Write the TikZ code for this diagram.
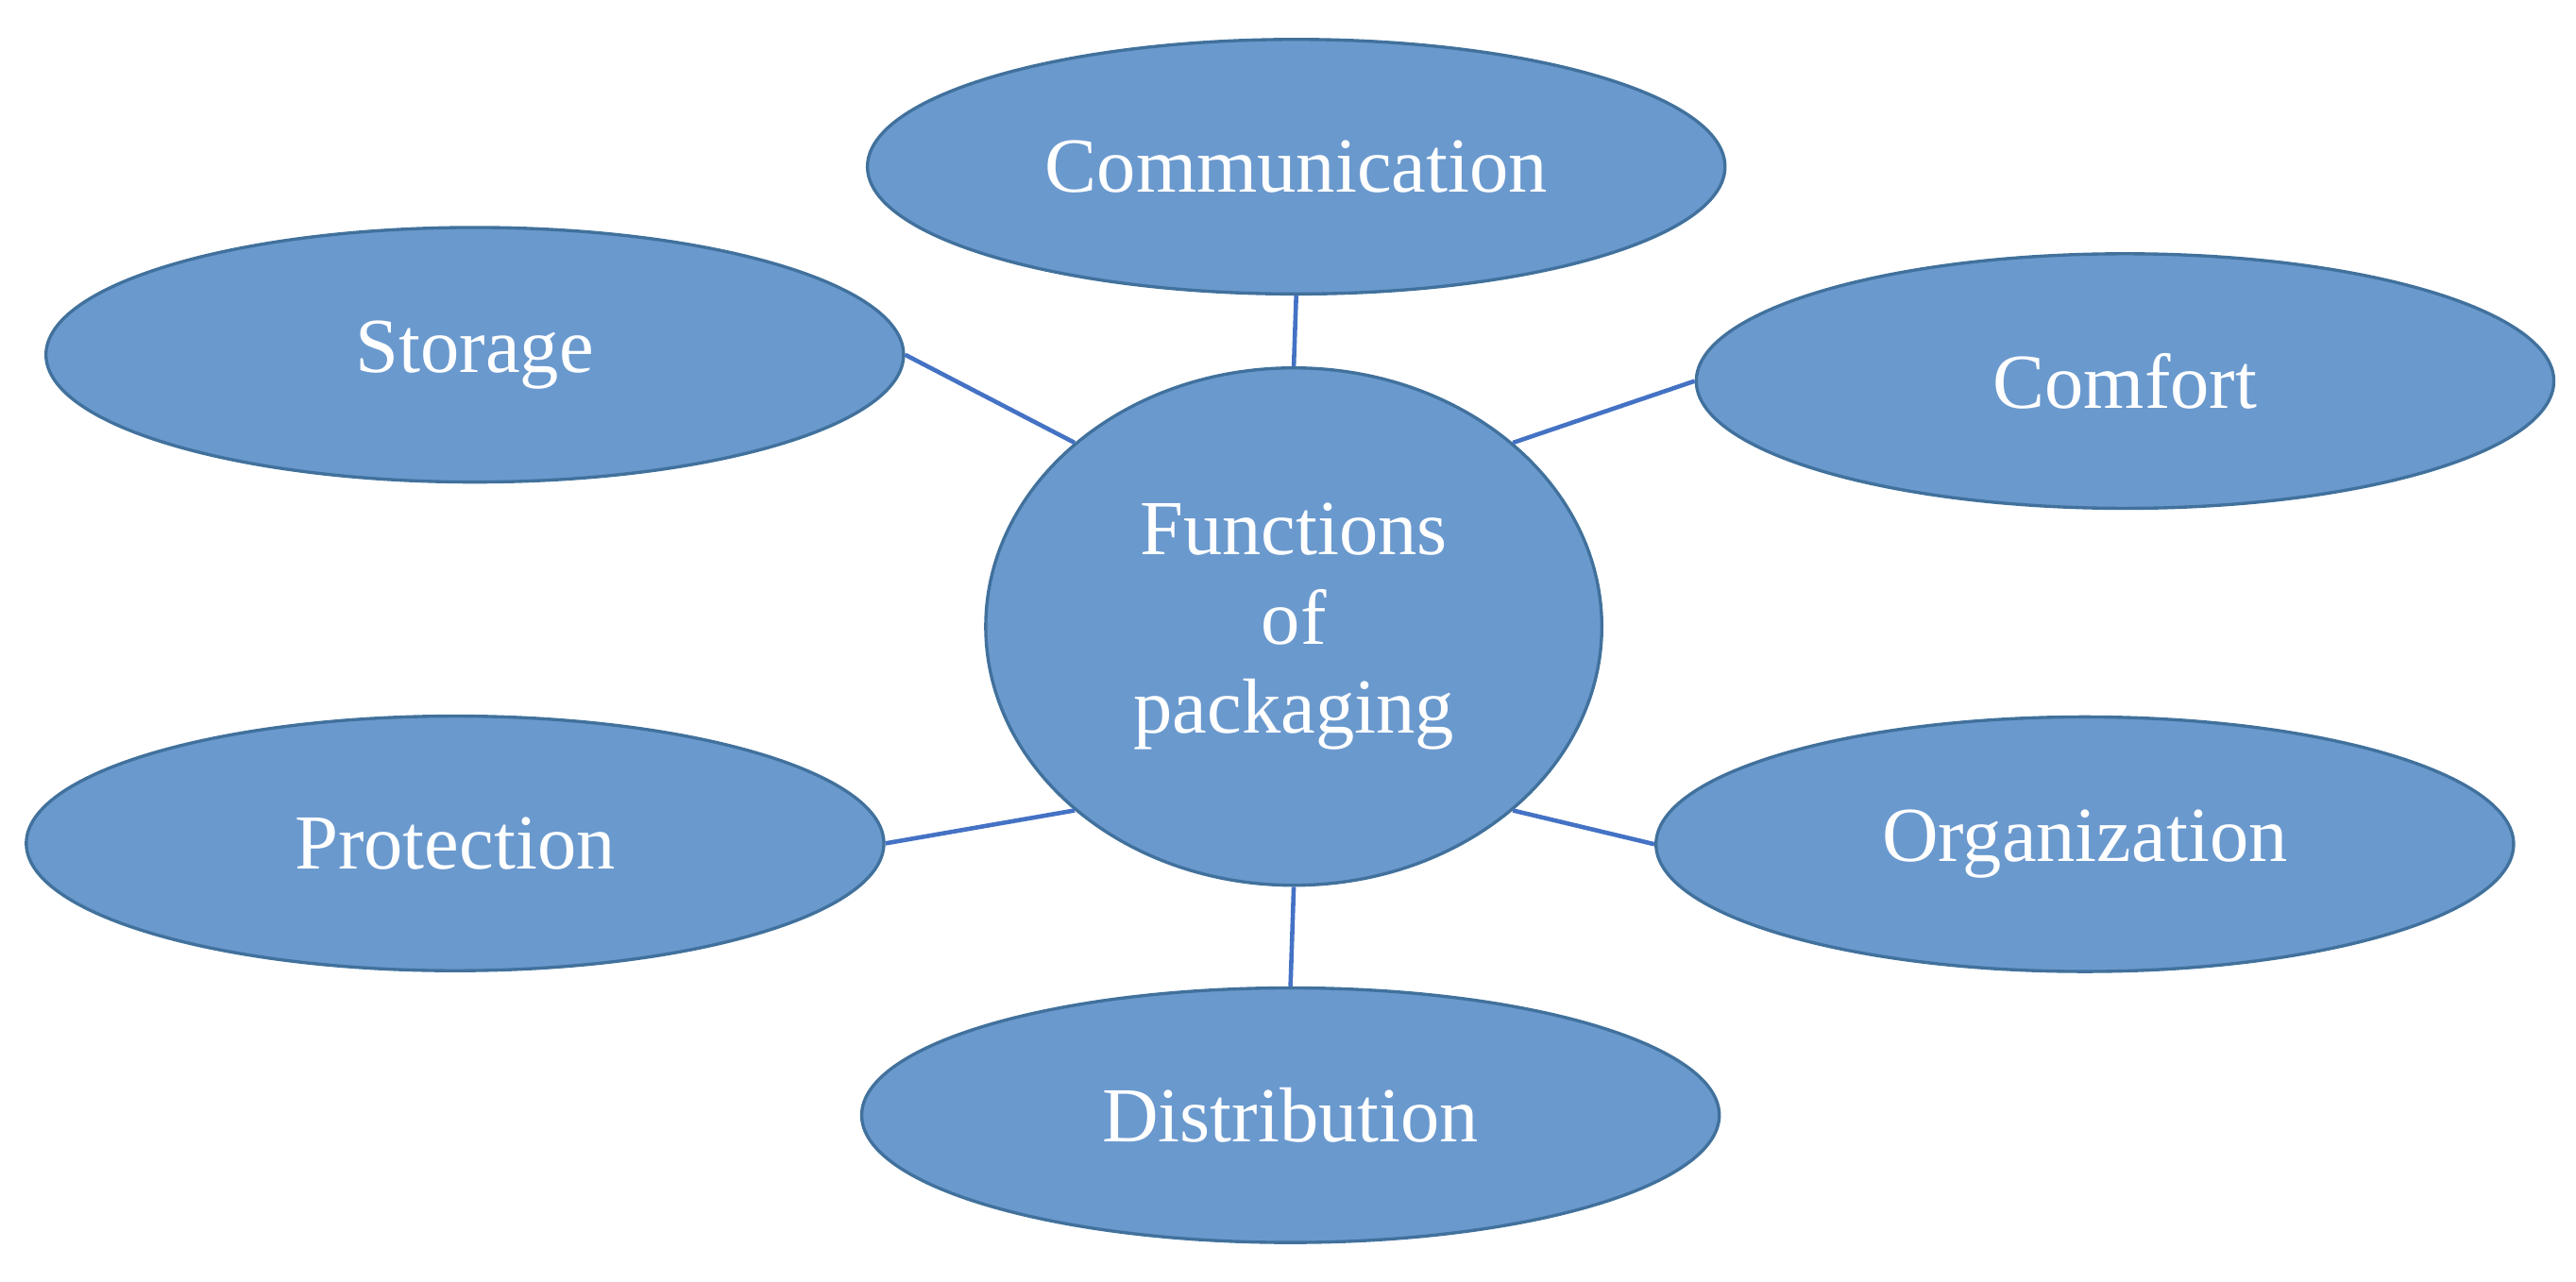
\documentclass[tikz,border=0pt]{standalone}
\usepackage{fontspec}
\setmainfont{Liberation Serif}
\usetikzlibrary{shapes.geometric}

\definecolor{bubblefill}{RGB}{106,153,206}
\definecolor{bubbleedge}{RGB}{65,113,156}
\definecolor{linkblue}{RGB}{68,114,196}

\tikzset{
  bubble/.style={ellipse, draw=bubbleedge, fill=bubblefill, line width=1.1pt,
    minimum width=10.44cm, minimum height=3.1cm, inner sep=0pt,
    text=white, font=\fontsize{27}{31}\selectfont},
  hub/.style={bubble, minimum width=7.5cm, minimum height=6.3cm, align=center},
  link/.style={draw=linkblue, line width=1.5pt}
}

\begin{document}
\begin{tikzpicture}
                \useasboundingbox (0, 0) rectangle (31.36, -15.6);
                % centre
                \node [hub] (centre) at (15.75, -7.63) {Functions\\of\\packaging};
                % outer functions
                \node [bubble] (communication) at (15.78, -2.03) {Communication};
                \node [bubble] (storage) at (5.78, -4.32) {Storage};
                \node [bubble] (comfort) at (25.87, -4.64) {Comfort};
                \node [bubble] (protection) at (5.54, -10.27) {Protection};
                \node [bubble] (organization) at (25.38, -10.28) {Organization};
                \node [bubble] (distribution) at (15.71, -13.58) {Distribution};
                % links
                \draw [link] (communication.south) -- (centre.north);
                \draw [link] (storage.east) -- (centre.140);
                \draw [link] (comfort.west) -- (centre.40);
                \draw [link] (protection.east) -- (centre.220);
                \draw [link] (organization.west) -- (centre.320);
                \draw [link] (distribution.north) -- (centre.south);
            \end{tikzpicture}
\end{document}
